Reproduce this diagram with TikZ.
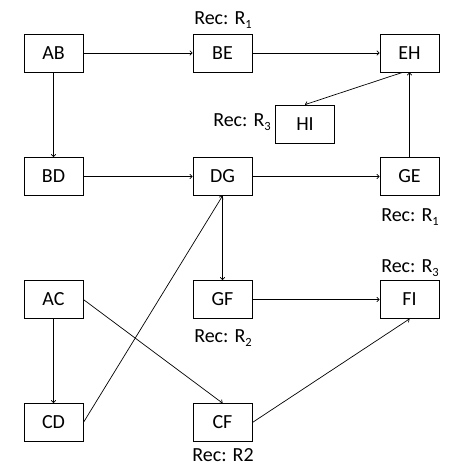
\documentclass[tikz,border=0pt]{standalone}
\usepackage{fontspec}
\setmainfont{Carlito}
\usetikzlibrary{arrows.meta,calc}
\newcommand{\sbs}[1]{\raisebox{-0.45ex}{\fontsize{12.5}{12.5}\selectfont #1}}
\begin{document}
\begin{tikzpicture}[x=1pt,y=-1pt,
  box/.style={draw,line width=0.8pt,minimum width=59pt,minimum height=38pt,inner sep=0pt,font=\fontsize{20}{23}\selectfont},
  lab/.style={inner sep=0pt,font=\fontsize{20}{23}\selectfont},
  arr/.style={line width=0.7pt,-{To[length=3pt,width=5pt]}}]
\fill[white] (0,0) rectangle (474,474);
\useasboundingbox (0,0) rectangle (474,474);
\node[box] (AB) at (53.5,53) {AB};
\node[box] (BE) at (222.5,53) {BE};
\node[box] (EH) at (409.5,53) {EH};
\node[box] (HI) at (305,124) {HI};
\node[box] (BD) at (53.5,176.5) {BD};
\node[box] (DG) at (222.5,176.5) {DG};
\node[box] (GE) at (409.5,176.5) {GE};
\node[box] (AC) at (53.5,299.5) {AC};
\node[box] (GF) at (222.5,299.5) {GF};
\node[box] (FI) at (409.5,299.5) {FI};
\node[box] (CD) at (53.5,422.5) {CD};
\node[box] (CF) at (222.5,422.5) {CF};
\node[lab] (l1) at (223,20) {Rec: R\sbs{1}};
\node[lab] (l2) at (242,122) {Rec: R\sbs{3}};
\node[lab] (l3) at (410,217) {Rec: R\sbs{1}};
\node[lab] (l4) at (410,268) {Rec: R\sbs{3}};
\node[lab] (l5) at (223,338) {Rec: R\sbs{2}};
\node[lab] (l6) at (223,455) {Rec: R2};
\draw[arr] (AB) -- (BE);
\draw[arr] (BE) -- (EH);
\draw[arr] (AB) -- (BD);
\draw[arr] ($(EH.south)+(-7,0)$) -- (HI.north);
\draw[arr] (GE) -- (EH);
\draw[arr] (BD) -- (DG);
\draw[arr] (DG) -- (GE);
\draw[arr] (DG) -- (GF);
\draw[arr] (GF) -- (FI);
\draw[arr] (AC) -- (CD);
\draw[arr] (CD.east) -- (DG.south);
\draw[arr] (AC.east) -- (CF.north);
\draw[arr] (CF.east) -- (FI.south);
\end{tikzpicture}
\end{document}
